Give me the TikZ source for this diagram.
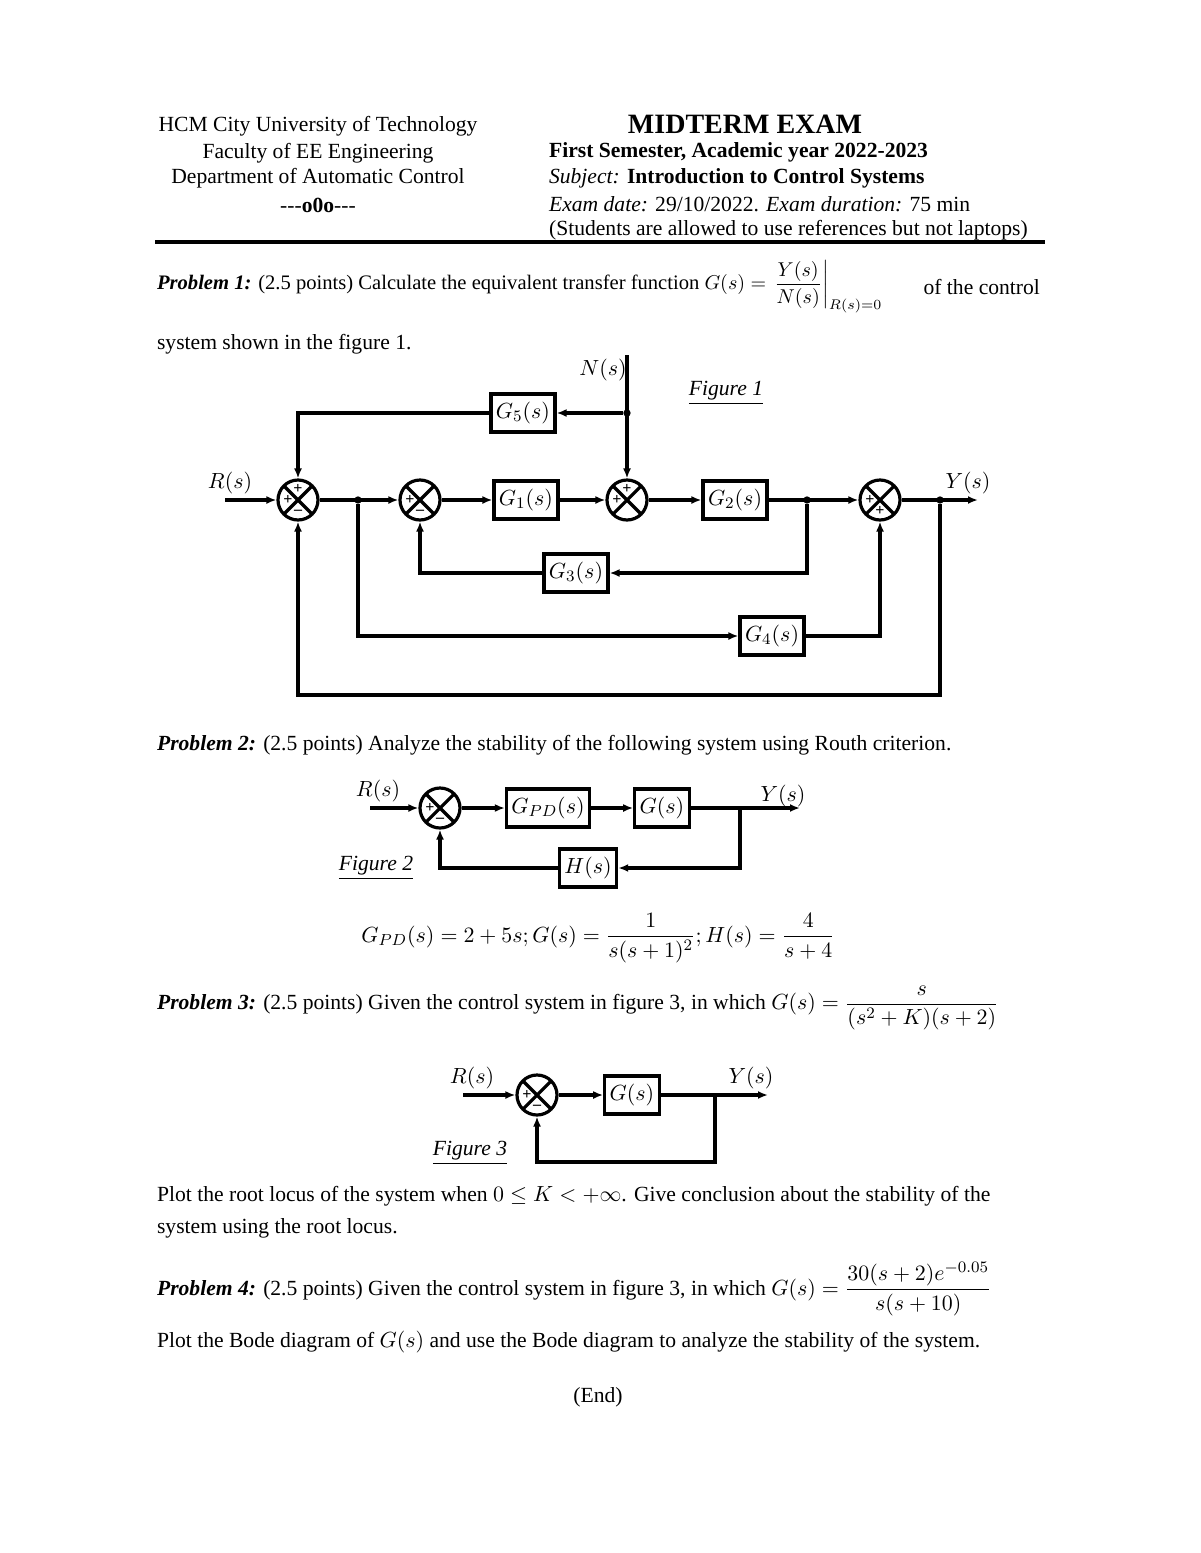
\documentclass[tikz,border=0pt]{standalone}
\usepackage{amsmath}
\usepackage{fontspec}
\setmainfont{Liberation Serif}
\usetikzlibrary{arrows.meta,calc}
\begin{document}
\begin{tikzpicture}[x=0.5pt,y=-0.5pt,
  every node/.style={font=\fontsize{10.8}{13}\selectfont},
  sumj/.style={circle,draw,line width=1.6pt,minimum size=20pt,inner sep=0pt,
    path picture={\draw[line width=1.6pt] (path picture bounding box.north west)--(path picture bounding box.south east)
      (path picture bounding box.north east)--(path picture bounding box.south west);}},
  blk/.style={draw,line width=1.6pt,minimum height=19pt,inner sep=2.5pt},
  sg/.style={font=\fontsize{8}{8}\selectfont\bfseries,inner sep=0pt},
  a/.style={line width=1.6pt,-{Latex[length=5pt,width=4pt]}},
  dot/.style={circle,fill,inner sep=1.3pt}]
\useasboundingbox (0,0) rectangle (1200,1553);
% header
\node (h1) at (318,126) {HCM City University of Technology};
\node (h2) at (318,153) {Faculty of EE Engineering};
\node (h3) at (318,178) {Department of Automatic Control};
\node (h4) at (318,205) {{-}{-}{-}\textbf{o0o}{-}{-}{-}};
\node (t0) at (745,124) {\fontsize{14}{16}\selectfont\textbf{MIDTERM EXAM}};
\node[anchor=west] (t1) at (542,152) {\textbf{First Semester, Academic year 2022-2023}};
\node[anchor=west] (t2) at (542,178) {\textit{Subject:} \textbf{Introduction to Control Systems}};
\node[anchor=west] (t3) at (542,204) {\textit{Exam date:} 29/10/2022. \textit{Exam duration:} 75 min};
\node[anchor=west] (t4) at (542,230) {(Students are allowed to use references but not laptops)};
\draw[line width=1.8pt] (155,242) -- (1045,242);
% problem 1
\node[anchor=west,font=\fontsize{10.3}{12}\selectfont] (p1) at (150,287) {\textbf{\textit{Problem 1:}} (2.5 points) Calculate the equivalent transfer function $G(s)=\left.\dfrac{Y(s)}{N(s)}\right|_{R(s)=0}$};
\node[anchor=east] (p1b) at (1047,287) {of the control};
\node[anchor=west] (p1c) at (150,344) {system shown in the figure 1.};
% figure 1
\node[sumj] (s1) at (298,500) {};
\node[sumj] (s2) at (420,500) {};
\node[sumj] (s3) at (627,500) {};
\node[sumj] (s4) at (880,500) {};
\node[blk] (g1) at (526,500) {$G_1(s)$};
\node[blk] (g2) at (735,500) {$G_2(s)$};
\node[blk] (g3) at (576,573) {$G_3(s)$};
\node[blk] (g4) at (772,636) {$G_4(s)$};
\node[blk] (g5) at (523,413) {$G_5(s)$};
\node (rl) at (230,483) {$R(s)$};
\node (yl) at (968,483) {$Y(s)$};
\node (nl) at (603,370) {$N(s)$};
\node (f1) at (726,393) {\underline{\textit{Figure 1}}};
\node[sg] at ($(s1)+(-10,0)$) {+}; \node[sg] at ($(s1)+(0,-11)$) {+}; \node[sg] at ($(s1)+(0,12)$) {--};
\node[sg] at ($(s2)+(-10,0)$) {+}; \node[sg] at ($(s2)+(0,12)$) {--};
\node[sg] at ($(s3)+(-10,0)$) {+}; \node[sg] at ($(s3)+(0,-11)$) {+};
\node[sg] at ($(s4)+(-10,0)$) {+}; \node[sg] at ($(s4)+(0,11)$) {+};
\coordinate (rin) at (225,500);
\coordinate (yout) at (978,500);
\coordinate (ntop) at (627,355);
\node[dot] (b1) at (358,500) {};
\node[dot] (b2) at (807,500) {};
\node[dot] (b3) at (940,500) {};
\node[dot] (b4) at (627,413) {};
\draw[a] (rin) -- (s1);
\draw[a] (s1) -- (s2);
\draw[a] (s2) -- (g1);
\draw[a] (g1) -- (s3);
\draw[a] (s3) -- (g2);
\draw[a] (g2) -- (s4);
\draw[a] (s4) -- (yout);
\draw[a] (ntop) -- (s3);
\draw[a] (b4) -- (g5);
\draw[a] (g5) -| (s1);
\draw[a] (b2) |- (g3);
\draw[a] (g3) -| (s2);
\draw[a] (b1) |- (g4);
\draw[a] (g4) -| (s4);
\draw[a] (b3) -- (940,695) -| (s1);
% problem 2
\node[anchor=west] (p2) at (150,745) {\textbf{\textit{Problem 2:}} (2.5 points) Analyze the stability of the following system using Routh criterion.};
\node[sumj] (q1) at (440,808) {};
\node[blk] (gpd) at (548,808) {$G_{PD}(s)$};
\node[blk] (gg) at (662,808) {$G(s)$};
\node[blk] (hh) at (588,868) {$H(s)$};
\node (r2) at (378,791) {$R(s)$};
\node (y2) at (783,796) {$Y(s)$};
\node (f2) at (376,868) {\underline{\textit{Figure 2}}};
\node[sg] at ($(q1)+(-10,0)$) {+}; \node[sg] at ($(q1)+(0,12)$) {--};
\coordinate (r2in) at (370,808);
\coordinate (y2out) at (800,808);
\coordinate (b5) at (740,808);
\draw[a] (r2in) -- (q1);
\draw[a] (q1) -- (gpd);
\draw[a] (gpd) -- (gg);
\draw[a] (gg) -- (y2out);
\draw[a] (b5) |- (hh);
\draw[a] (hh) -| (q1);
\node (eq2) at (598,938) {$G_{PD}(s)=2+5s;G(s)=\dfrac{1}{s(s+1)^2};H(s)=\dfrac{4}{s+4}$};
% problem 3
\node[anchor=west] (p3) at (150,1008) {\textbf{\textit{Problem 3:}} (2.5 points) Given the control system in figure 3, in which $G(s)=\dfrac{s}{(s^2+K)(s+2)}$};
\node[sumj] (u1) at (537,1095) {};
\node[blk] (g3b) at (632,1095) {$G(s)$};
\node (r3) at (472,1078) {$R(s)$};
\node (y3) at (751,1078) {$Y(s)$};
\node (f3) at (470,1153) {\underline{\textit{Figure 3}}};
\node[sg] at ($(u1)+(-10,0)$) {+}; \node[sg] at ($(u1)+(0,12)$) {--};
\coordinate (r3in) at (463,1095);
\coordinate (y3out) at (768,1095);
\coordinate (b6) at (715,1095);
\draw[a] (r3in) -- (u1);
\draw[a] (u1) -- (g3b);
\draw[a] (g3b) -- (y3out);
\draw[a] (b6) -- (715,1162) -| (u1);
\node[anchor=west] (p3b) at (150,1196) {Plot the root locus of the system when $0\le K<+\infty$. Give conclusion about the stability of the};
\node[anchor=west] (p3c) at (150,1228) {system using the root locus.};
% problem 4
\node[anchor=west] (p4) at (150,1289) {\textbf{\textit{Problem 4:}} (2.5 points) Given the control system in figure 3, in which $G(s)=\dfrac{30(s+2)e^{-0.05}}{s(s+10)}$};
\node[anchor=west] (p4b) at (150,1342) {Plot the Bode diagram of $G(s)$ and use the Bode diagram to analyze the stability of the system.};
\node (end) at (598,1397) {(End)};
\end{tikzpicture}
\end{document}
